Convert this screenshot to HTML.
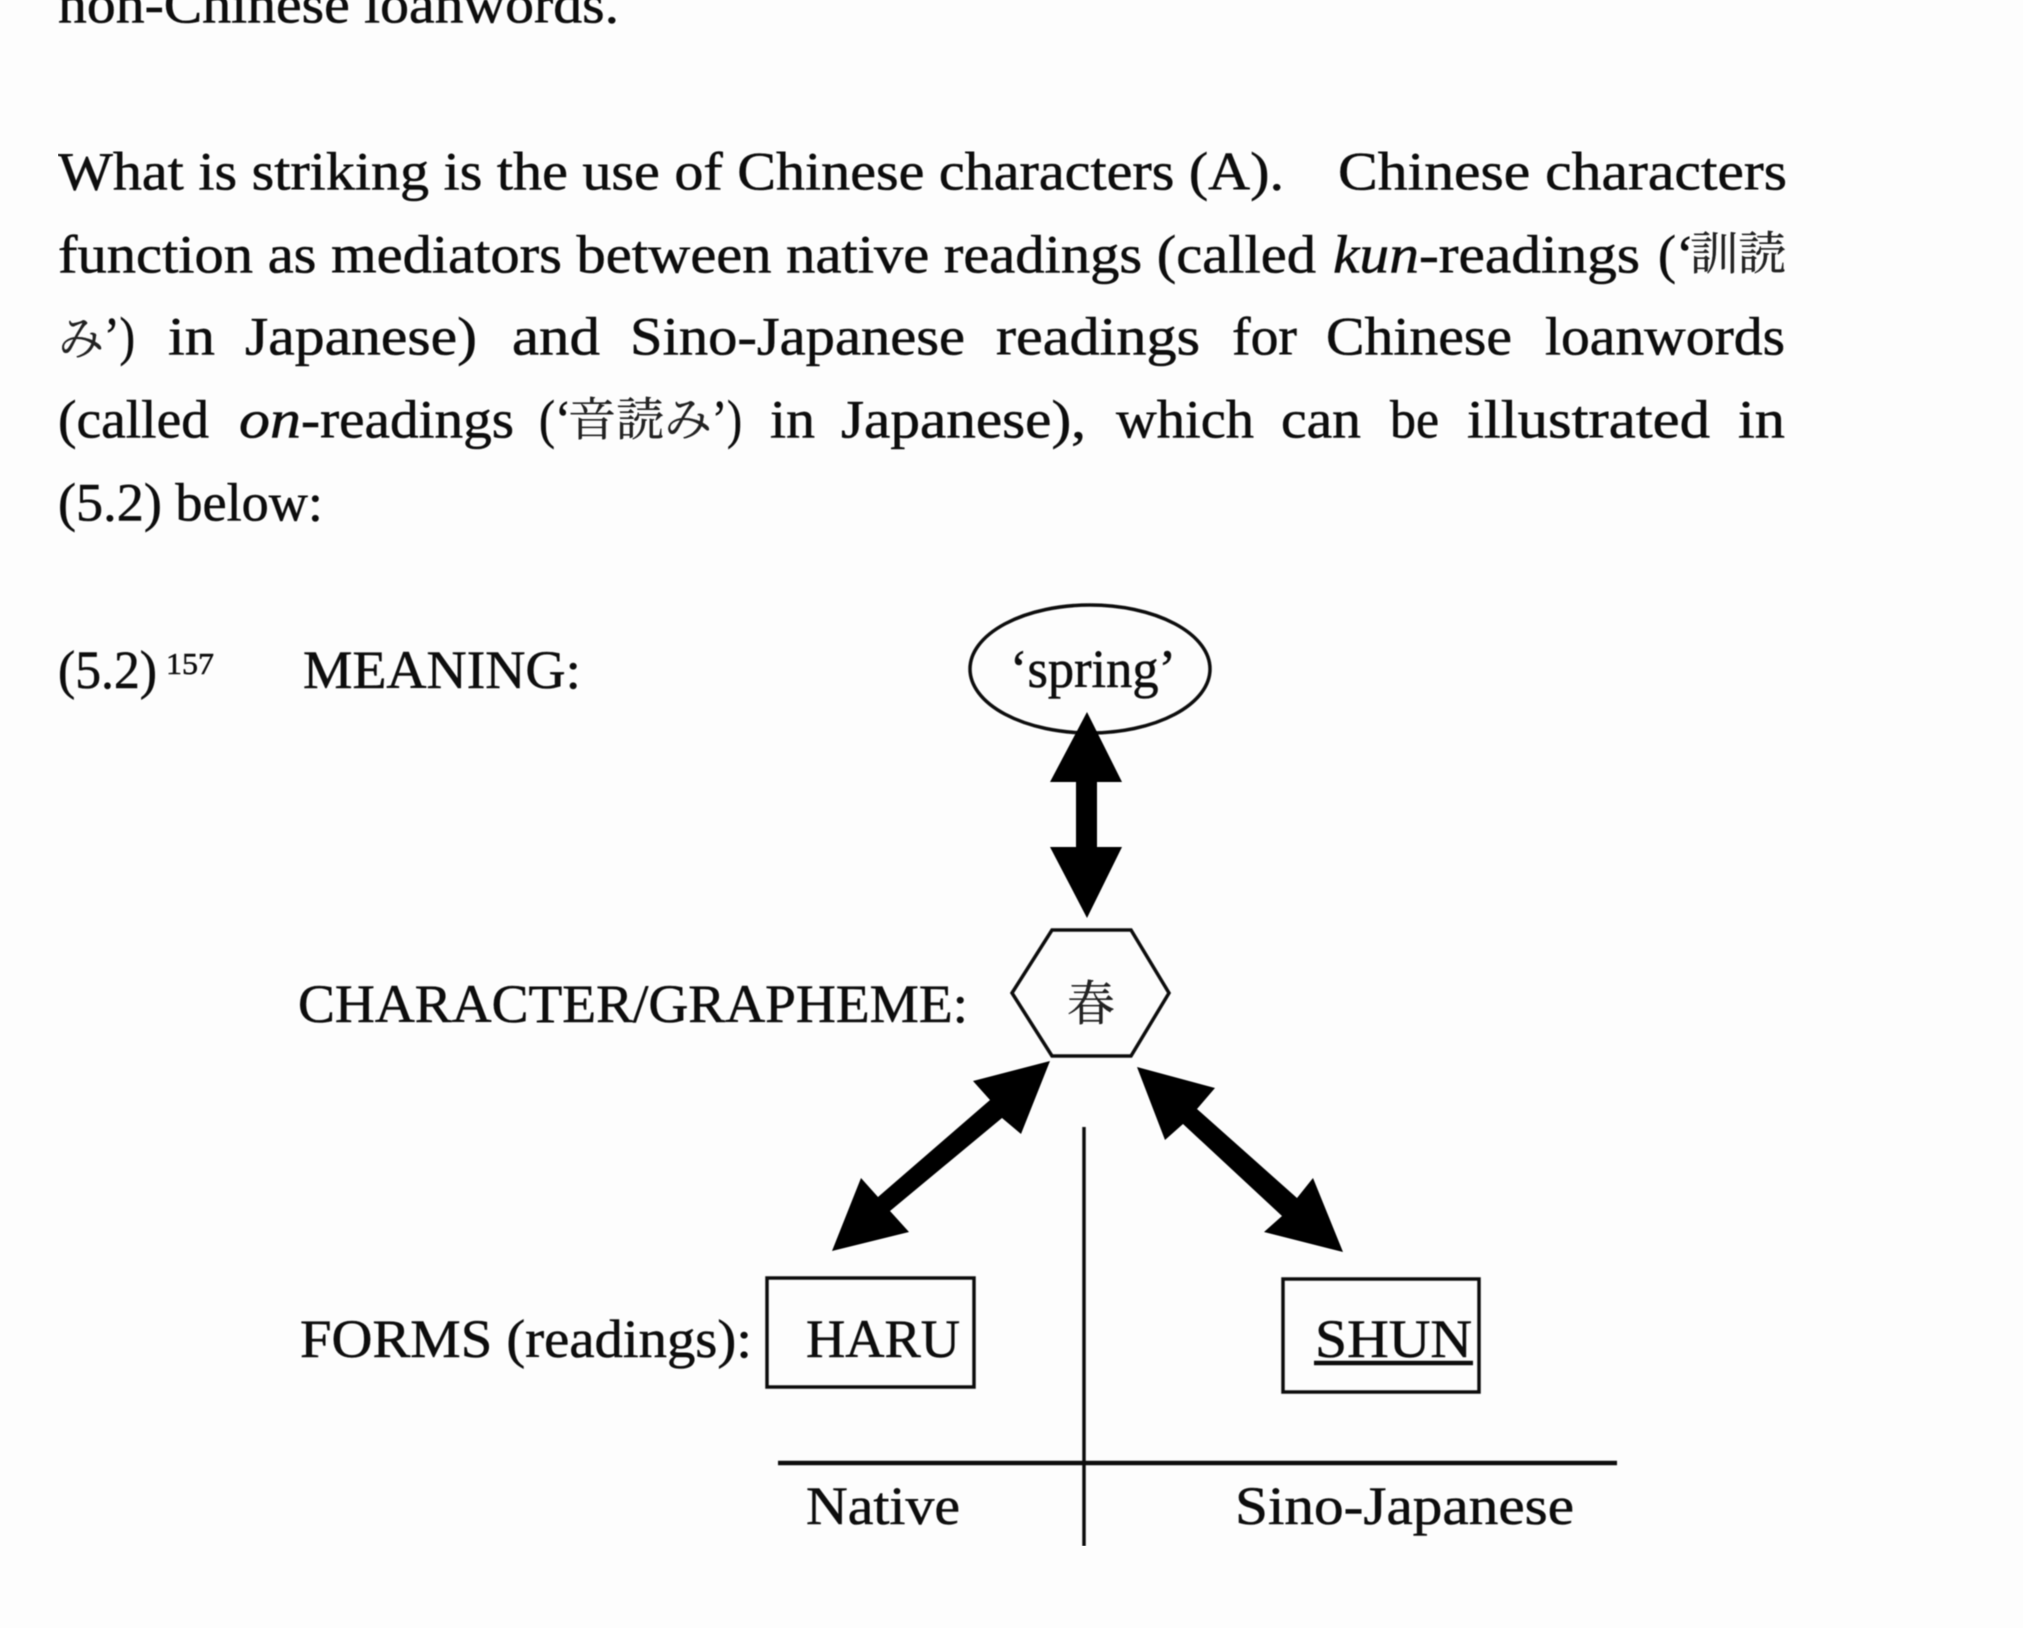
<!DOCTYPE html>
<html><head><meta charset="utf-8">
<style>
html,body{margin:0;padding:0;background:#fdfdfd;width:2023px;height:1628px;overflow:hidden}
svg{display:block}
text{font-family:"Liberation Serif","Noto Serif CJK JP",serif;font-size:54px;fill:#111;stroke:#111;stroke-width:.55px}
.j{font-family:"Liberation Serif","Noto Serif CJK JP",serif;font-size:40px;fill:#222;stroke-width:.3px}
.i{font-style:italic}
</style></head><body>
<svg xmlns="http://www.w3.org/2000/svg" width="2023" height="1628" viewBox="0 0 2023 1628">
<defs><filter id="b" x="0" y="0" width="100%" height="100%"><feGaussianBlur stdDeviation="0.6"/></filter></defs>
<rect width="2023" height="1628" fill="#fdfdfd"/>
<g filter="url(#b)">
<g transform="translate(0,1.5)">
<text x="58" y="21" textLength="561" lengthAdjust="spacingAndGlyphs">non-Chinese loanwords.</text>

<text x="58" y="188" textLength="1226" lengthAdjust="spacingAndGlyphs">What is striking is the use of Chinese characters (A).</text>
<text x="1338" y="188" textLength="449" lengthAdjust="spacingAndGlyphs">Chinese characters</text>

<text x="58" y="271" textLength="1258" lengthAdjust="spacingAndGlyphs">function as mediators between native readings (called</text>
<text x="1333" y="271" textLength="86" lengthAdjust="spacingAndGlyphs" class="i">kun</text>
<text x="1419" y="271" textLength="221" lengthAdjust="spacingAndGlyphs">-readings</text>
<text x="1658" y="271" textLength="36" lengthAdjust="spacingAndGlyphs">(‘</text>
<text x="1690" y="268" textLength="96" lengthAdjust="spacingAndGlyphs" class="j" style="font-size:46px">訓読</text>

<text x="58" y="353" textLength="46" lengthAdjust="spacingAndGlyphs" class="j" style="font-size:46px">み</text>
<text x="104" y="353" textLength="31" lengthAdjust="spacingAndGlyphs">’)</text>
<text x="168" y="353" textLength="47" lengthAdjust="spacingAndGlyphs">in</text>
<text x="245" y="353" textLength="232" lengthAdjust="spacingAndGlyphs">Japanese)</text>
<text x="512" y="353" textLength="88" lengthAdjust="spacingAndGlyphs">and</text>
<text x="630" y="353" textLength="335" lengthAdjust="spacingAndGlyphs">Sino-Japanese</text>
<text x="996" y="353" textLength="204" lengthAdjust="spacingAndGlyphs">readings</text>
<text x="1232" y="353" textLength="65" lengthAdjust="spacingAndGlyphs">for</text>
<text x="1326" y="353" textLength="186" lengthAdjust="spacingAndGlyphs">Chinese</text>
<text x="1545" y="353" textLength="240" lengthAdjust="spacingAndGlyphs">loanwords</text>

<text x="58" y="436" textLength="151" lengthAdjust="spacingAndGlyphs">(called</text>
<text x="239" y="436" textLength="62" lengthAdjust="spacingAndGlyphs" class="i">on</text>
<text x="301" y="436" textLength="213" lengthAdjust="spacingAndGlyphs">-readings</text>
<text x="539" y="436" textLength="32" lengthAdjust="spacingAndGlyphs">(‘</text>
<text x="568" y="434" textLength="144" lengthAdjust="spacingAndGlyphs" class="j" style="font-size:46px">音読み</text>
<text x="712" y="436" textLength="30" lengthAdjust="spacingAndGlyphs">’)</text>
<text x="770" y="436" textLength="45" lengthAdjust="spacingAndGlyphs">in</text>
<text x="841" y="436" textLength="245" lengthAdjust="spacingAndGlyphs">Japanese),</text>
<text x="1116" y="436" textLength="138" lengthAdjust="spacingAndGlyphs">which</text>
<text x="1281" y="436" textLength="80" lengthAdjust="spacingAndGlyphs">can</text>
<text x="1390" y="436" textLength="49" lengthAdjust="spacingAndGlyphs">be</text>
<text x="1467" y="436" textLength="243" lengthAdjust="spacingAndGlyphs">illustrated</text>
<text x="1738" y="436" textLength="47" lengthAdjust="spacingAndGlyphs">in</text>

<text x="58" y="519" textLength="265" lengthAdjust="spacingAndGlyphs">(5.2) below:</text>
</g>
<g transform="translate(0,1)">
<text x="58" y="687" textLength="99" lengthAdjust="spacingAndGlyphs">(5.2)</text>
<text x="166" y="673" textLength="48" lengthAdjust="spacingAndGlyphs" style="font-size:31px">157</text>
<text x="303" y="687" textLength="278" lengthAdjust="spacingAndGlyphs">MEANING:</text>
<text x="1010" y="686" textLength="166" lengthAdjust="spacingAndGlyphs">‘spring’</text>
<text x="298" y="1021" textLength="670" lengthAdjust="spacingAndGlyphs">CHARACTER/GRAPHEME:</text>
<text x="1067" y="1019" textLength="48" lengthAdjust="spacingAndGlyphs" class="j" style="font-size:48px">春</text>
<text x="300" y="1356" textLength="452" lengthAdjust="spacingAndGlyphs">FORMS (readings):</text>
<text x="806" y="1356" textLength="154" lengthAdjust="spacingAndGlyphs">HARU</text>
<text x="1315" y="1356" textLength="157" lengthAdjust="spacingAndGlyphs">SHUN</text>
<text x="806" y="1523" textLength="154" lengthAdjust="spacingAndGlyphs">Native</text>
<text x="1235" y="1523" textLength="339" lengthAdjust="spacingAndGlyphs">Sino-Japanese</text>
</g>

<g fill="none" stroke="#111" stroke-width="3.5">
<ellipse cx="1090" cy="669" rx="120" ry="64"/>
<polygon points="1012,993 1052,930 1131,930 1169,993 1131,1056 1052,1056"/>
<rect x="767" y="1278" width="207" height="109"/>
<rect x="1283" y="1279" width="196" height="113"/>
<line x1="1084" y1="1127" x2="1084" y2="1546"/>
<line x1="778" y1="1463" x2="1617" y2="1463" stroke-width="4.5"/>
<line x1="1314" y1="1363" x2="1473" y2="1363" stroke-width="4.5"/>
</g>
<g fill="#000">
<polygon points="1087,712 1122,782 1097,782 1097,847 1122,847 1087,918 1050,847 1076,847 1076,782 1050,782"/>
<polygon points="1050,1061 1021,1134 1002,1118 890,1211 909,1232 832,1251 861,1178 878,1197 990,1100 973,1081"/>
<polygon points="1137,1067 1215,1088 1197,1109 1297,1198 1313,1178 1343,1252 1264,1232 1282,1216 1183,1124 1165,1140"/>
</g>
</g>
</svg>
</body></html>
